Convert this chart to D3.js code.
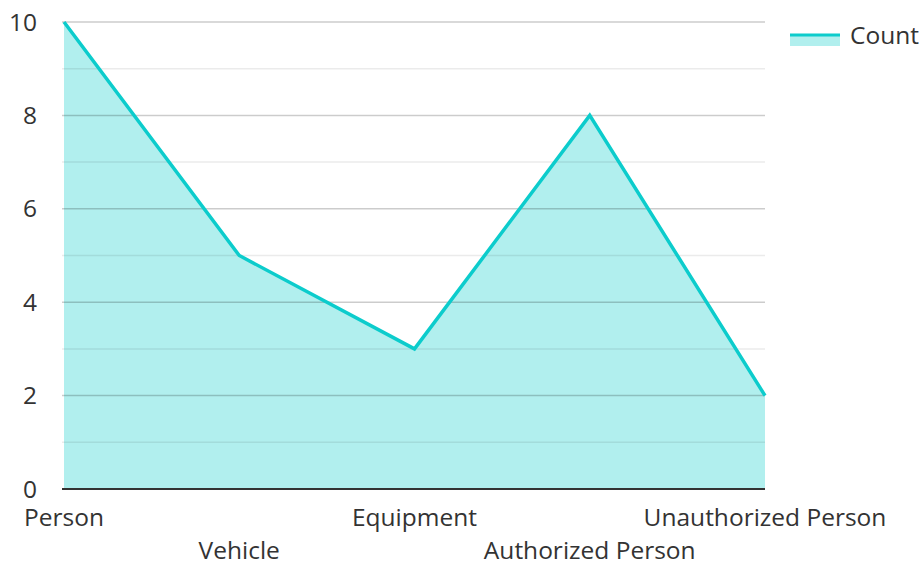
<!DOCTYPE html>
<html>
<head>
<meta charset="utf-8">
<script src="https://cdn.jsdelivr.net/npm/d3@7"></script>
<style>
  body { margin: 0; background: #fff; }
  svg text { font-family: "Open Sans", "Noto Sans", sans-serif; fill: #333; }
</style>
</head>
<body>
<svg id="chart" width="923" height="563"></svg>
<script>
const categories = ["Person", "Vehicle", "Equipment", "Authorized Person", "Unauthorized Person"];
const counts = [10, 5, 3, 8, 2];
const majorTicks = [0, 2, 4, 6, 8, 10];
const minorTicks = [1, 3, 5, 7, 9];
const seriesName = "Count";

const margin = {top: 22, right: 158, bottom: 74, left: 64};
const width = 923 - margin.left - margin.right;
const height = 563 - margin.top - margin.bottom;
const fontSize = 24.5;

const svg = d3.select("#chart");
const chart = svg.append("g")
    .attr("transform", `translate(${margin.left},${margin.top})`);

const xScale = d3.scalePoint()
    .domain(categories)
    .range([0, width]);

const yScale = d3.scaleLinear()
    .domain([0, 10])
    .range([height, 0]);

const data = categories.map((c, i) => ({cat: c, value: counts[i]}));

// area first, grid drawn over it
const area = d3.area()
    .x(d => xScale(d.cat))
    .y0(yScale(0))
    .y1(d => yScale(d.value));

chart.append("path")
    .datum(data)
    .attr("fill", "#b1efee")
    .attr("d", area);

chart.selectAll(".minor-grid")
    .data(minorTicks)
  .join("line")
    .attr("class", "minor-grid")
    .attr("x1", -2).attr("x2", width)
    .attr("y1", d => yScale(d)).attr("y2", d => yScale(d))
    .attr("stroke", "rgba(0,0,0,0.08)")
    .attr("stroke-width", 1.5);

chart.selectAll(".major-grid")
    .data(majorTicks.filter(d => d > 0))
  .join("line")
    .attr("class", "major-grid")
    .attr("x1", -2).attr("x2", width)
    .attr("y1", d => yScale(d)).attr("y2", d => yScale(d))
    .attr("stroke", "rgba(0,0,0,0.2)")
    .attr("stroke-width", 1.5);

const line = d3.line()
    .x(d => xScale(d.cat))
    .y(d => yScale(d.value));

chart.append("path")
    .datum(data)
    .attr("fill", "none")
    .attr("stroke", "#0ccccc")
    .attr("stroke-width", 3.5)
    .attr("stroke-linejoin", "miter")
    .attr("d", line);

// x axis line
chart.append("line")
    .attr("x1", -2).attr("x2", width)
    .attr("y1", height).attr("y2", height)
    .attr("stroke", "#333")
    .attr("stroke-width", 2);

// y labels
chart.selectAll(".ylab")
    .data(majorTicks)
  .join("text")
    .attr("class", "ylab")
    .attr("x", -27)
    .attr("y", d => yScale(d))
    .attr("dy", "0.35em")
    .attr("text-anchor", "end")
    .attr("font-size", fontSize)
    .text(d => d);

// x labels, alternating rows (baselines)
chart.selectAll(".xlab")
    .data(categories)
  .join("text")
    .attr("class", "xlab")
    .attr("x", d => xScale(d))
    .attr("y", (d, i) => height + 37 + (i % 2) * 33)
    .attr("text-anchor", "middle")
    .attr("font-size", fontSize)
    .text(d => d);

// legend
const legend = svg.append("g").attr("transform", "translate(790,35)");
legend.append("rect")
    .attr("x", 0).attr("y", 0)
    .attr("width", 50).attr("height", 11)
    .attr("fill", "#b1efee");
legend.append("line")
    .attr("x1", 0).attr("x2", 50)
    .attr("y1", 0).attr("y2", 0)
    .attr("stroke", "#0ccccc")
    .attr("stroke-width", 3);
legend.append("text")
    .attr("x", 60).attr("y", 0)
    .attr("dy", "0.35em")
    .attr("font-size", fontSize)
    .text(seriesName);
</script>
</body>
</html>
